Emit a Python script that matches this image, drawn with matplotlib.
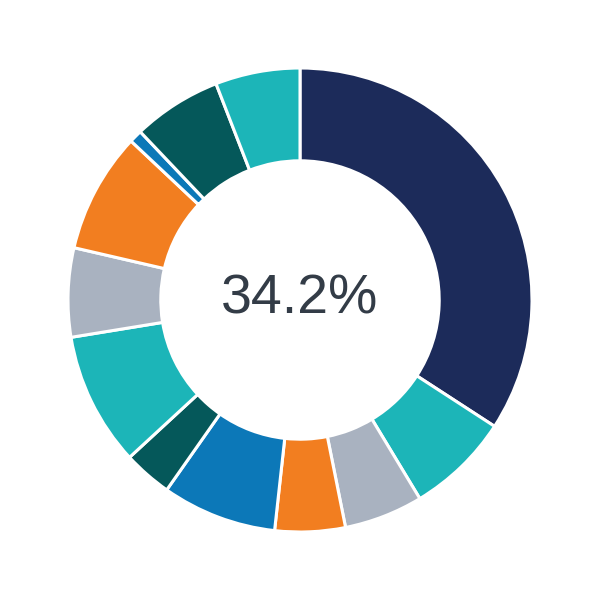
import matplotlib.pyplot as plt

# slice shares (%), clockwise from 12 o'clock
labels = ["A", "B", "C", "D", "E", "F", "G", "H", "I", "J", "K", "L"]
values = [34.2, 7.2, 5.5, 4.9, 8.0, 3.4, 9.3, 6.2, 8.4, 0.9, 6.2, 5.9]
colors = ["#1c2b5a", "#1cb5b8", "#a9b2c0", "#f27e20", "#0c78b8", "#05585a",
          "#1cb5b8", "#a9b2c0", "#f27e20", "#0c78b8", "#05585a", "#1cb5b8"]
center_text = "34.2%"

fig = plt.figure(figsize=(6, 6), dpi=100)
ax = fig.add_axes([0, 0, 1, 1])
ax.pie(values, colors=colors, startangle=90, counterclock=False, radius=1,
       wedgeprops=dict(width=0.4, edgecolor="white", linewidth=2.2))
ax.text(0, 0, center_text, ha="center", va="center", fontsize=40,
        color="#333c47", family="Liberation Sans")
lim = 300 / 232
ax.set_xlim(-lim, lim)
ax.set_ylim(-lim, lim)
ax.axis("off")
fig.savefig("out.png", dpi=100, facecolor="white")
